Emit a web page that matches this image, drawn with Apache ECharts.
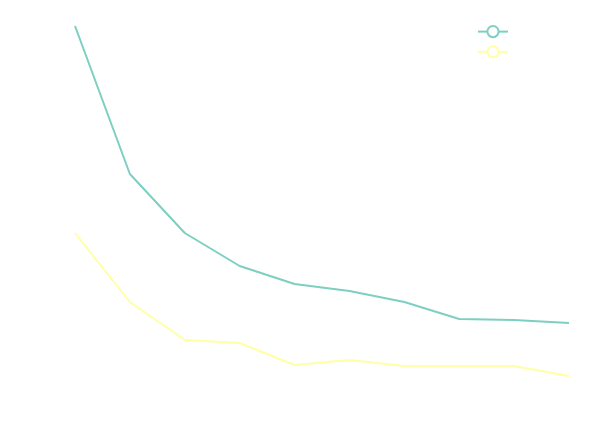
<!DOCTYPE html>
<html>
<head>
<meta charset="utf-8">
<script src="https://cdn.jsdelivr.net/npm/echarts@6/dist/echarts.min.js"></script>
<style>html,body{margin:0;background:#fff}#main{width:603px;height:428px}</style>
</head>
<body>
<div id="main"></div>
<script>
var categories = ['1','2','3','4','5','6','7','8','9','10'];
var seriesA = [374,226,167,134,116,109,98,81,80,77];
var seriesB = [167,98,60,57,35,40,34,34,34,24];

var myChart = echarts.init(document.getElementById('main'));
myChart.setOption({
	animation: false,
	legend: {
		orient: 'vertical', left: 472, top: 20, itemWidth: 30, itemHeight: 14, itemGap: 7,
		textStyle: { color: '#fff' },
		data: ['A', 'B']
	},
	grid: { left: 75, right: 34, top: 20, bottom: 28 },
	xAxis: { type: 'category', boundaryGap: false, data: categories, show: false },
	yAxis: { type: 'value', min: 0, max: 380, show: false },
	series: [
		{ name: 'A', type: 'line', data: seriesA, showSymbol: false, lineStyle: { color: '#7dcfc2', width: 2 }, itemStyle: { color: '#7dcfc2' } },
		{ name: 'B', type: 'line', data: seriesB, showSymbol: false, lineStyle: { color: '#ffffa6', width: 2 }, itemStyle: { color: '#ffffa6' } }
	]
});
</script>
</body>
</html>
